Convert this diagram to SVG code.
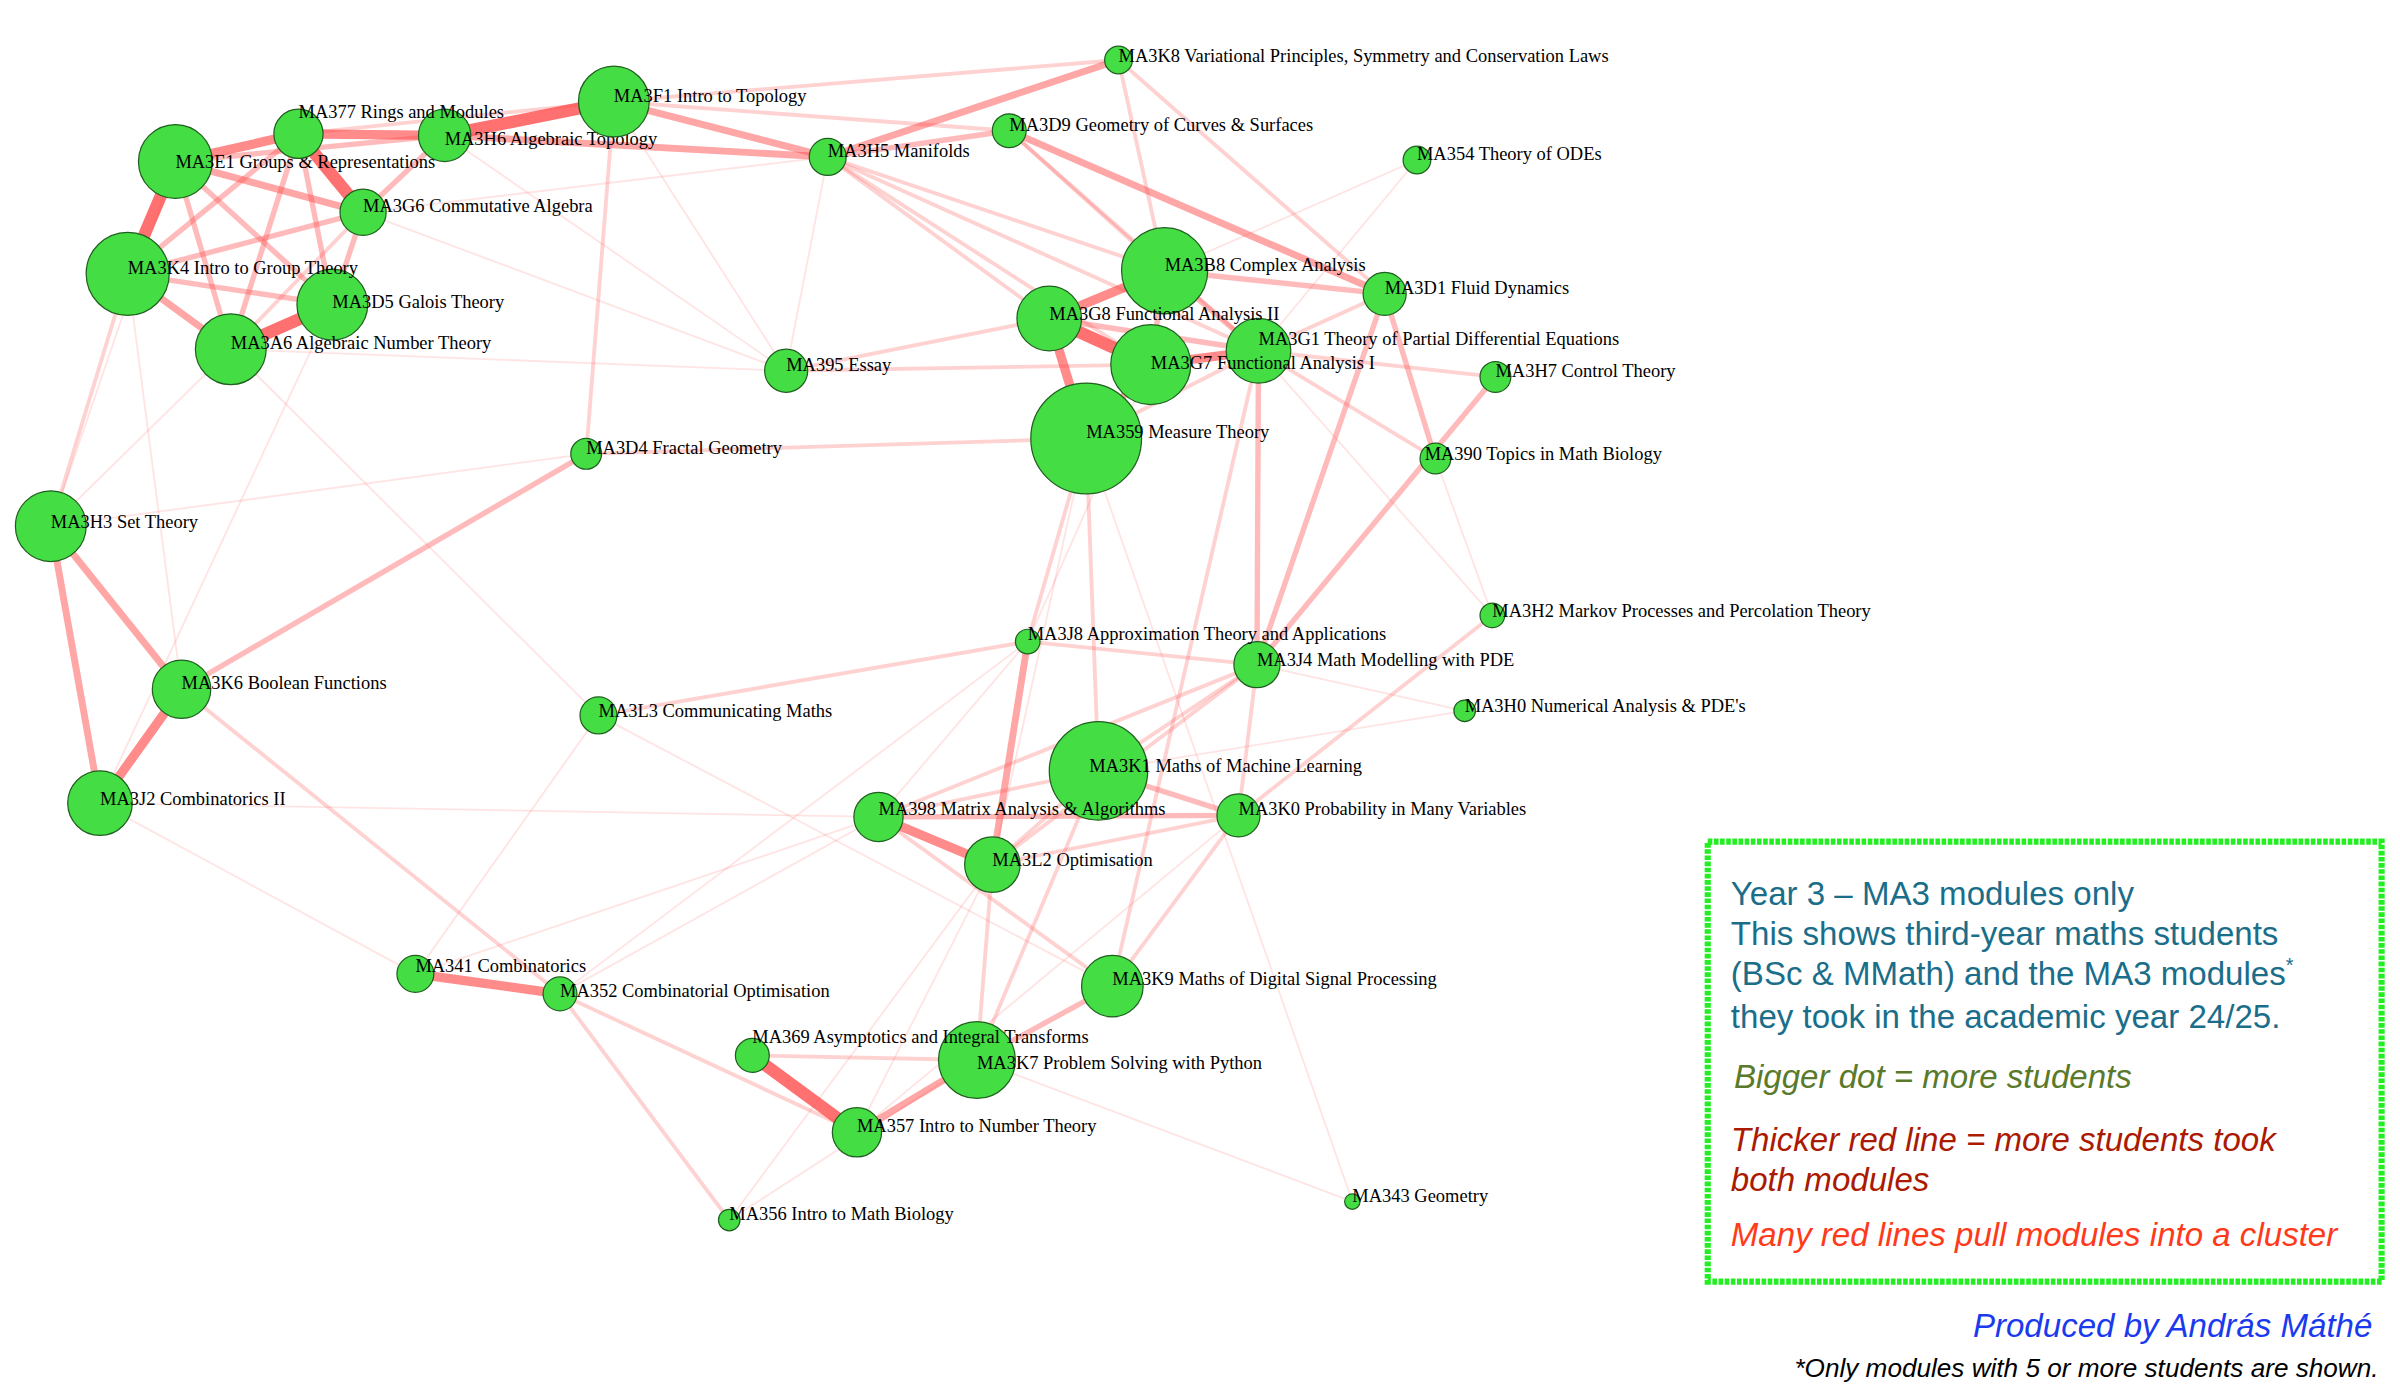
<svg xmlns="http://www.w3.org/2000/svg" width="2400" height="1400" viewBox="0 0 2400 1400">
<style>
.e{stroke:#ff4d4d;fill:none;stroke-linecap:round}
.w1{stroke-width:1.2;stroke-opacity:.15}
.w2{stroke-width:2.5;stroke-opacity:.25}
.w3{stroke-width:3.5;stroke-opacity:.38}
.w4{stroke-width:4.5;stroke-opacity:.5}
.w5{stroke-width:6;stroke-opacity:.65}
.w6{stroke-width:8;stroke-opacity:.8}
circle{fill:#44dd44;stroke:#1f5f1f;stroke-width:.8}
.n text{font-family:"Liberation Serif",serif;font-size:12px;fill:#000}
.lg{font-family:"Liberation Sans",Arial,sans-serif;font-size:21.5px}
</style>
<rect width="2400" height="1400" fill="#fff"/>
<g transform="scale(1.5385)">
<g id="connectors">
<line class="e w6" x1="114" y1="105" x2="83" y2="178"/>
<line class="e w5" x1="114" y1="105" x2="194" y2="87"/>
<line class="e w5" x1="194" y1="87" x2="289" y2="88"/>
<line class="e w6" x1="289" y1="88" x2="399" y2="66"/>
<line class="e w6" x1="194" y1="87" x2="236" y2="138"/>
<line class="e w4" x1="114" y1="105" x2="236" y2="138"/>
<line class="e w3" x1="236" y1="138" x2="216" y2="198"/>
<line class="e w6" x1="216" y1="198" x2="150" y2="227"/>
<line class="e w4" x1="83" y1="178" x2="150" y2="227"/>
<line class="e w3" x1="83" y1="178" x2="216" y2="198"/>
<line class="e w3" x1="114" y1="105" x2="216" y2="198"/>
<line class="e w3" x1="114" y1="105" x2="150" y2="227"/>
<line class="e w3" x1="194" y1="87" x2="150" y2="227"/>
<line class="e w3" x1="194" y1="87" x2="216" y2="198"/>
<line class="e w3" x1="83" y1="178" x2="236" y2="138"/>
<line class="e w3" x1="83" y1="178" x2="194" y2="87"/>
<line class="e w3" x1="114" y1="105" x2="289" y2="88"/>
<line class="e w3" x1="236" y1="138" x2="289" y2="88"/>
<line class="e w2" x1="236" y1="138" x2="150" y2="227"/>
<line class="e w2" x1="194" y1="87" x2="399" y2="66"/>
<line class="e w4" x1="399" y1="66" x2="538" y2="102"/>
<line class="e w4" x1="289" y1="88" x2="538" y2="102"/>
<line class="e w4" x1="538" y1="102" x2="727" y2="39"/>
<line class="e w3" x1="538" y1="102" x2="656" y2="85"/>
<line class="e w2" x1="399" y1="66" x2="656" y2="85"/>
<line class="e w2" x1="399" y1="66" x2="727" y2="39"/>
<line class="e w4" x1="656" y1="85" x2="900" y2="191"/>
<line class="e w2" x1="656" y1="85" x2="757" y2="176"/>
<line class="e w2" x1="656" y1="85" x2="818" y2="228"/>
<line class="e w2" x1="727" y1="39" x2="757" y2="176"/>
<line class="e w2" x1="727" y1="39" x2="900" y2="191"/>
<line class="e w2" x1="538" y1="102" x2="748" y2="237"/>
<line class="e w2" x1="538" y1="102" x2="757" y2="176"/>
<line class="e w2" x1="538" y1="102" x2="818" y2="228"/>
<line class="e w2" x1="538" y1="102" x2="682" y2="207"/>
<line class="e w1" x1="538" y1="102" x2="511" y2="241"/>
<line class="e w2" x1="399" y1="66" x2="381" y2="295"/>
<line class="e w1" x1="399" y1="66" x2="511" y2="241"/>
<line class="e w1" x1="236" y1="138" x2="538" y2="102"/>
<line class="e w6" x1="682" y1="207" x2="748" y2="237"/>
<line class="e w5" x1="682" y1="207" x2="706" y2="285"/>
<line class="e w4" x1="748" y1="237" x2="706" y2="285"/>
<line class="e w5" x1="757" y1="176" x2="682" y2="207"/>
<line class="e w3" x1="757" y1="176" x2="748" y2="237"/>
<line class="e w5" x1="748" y1="237" x2="818" y2="228"/>
<line class="e w3" x1="682" y1="207" x2="818" y2="228"/>
<line class="e w3" x1="757" y1="176" x2="818" y2="228"/>
<line class="e w3" x1="757" y1="176" x2="900" y2="191"/>
<line class="e w2" x1="706" y1="285" x2="818" y2="228"/>
<line class="e w2" x1="818" y1="228" x2="900" y2="191"/>
<line class="e w3" x1="900" y1="191" x2="933" y2="298"/>
<line class="e w3" x1="900" y1="191" x2="817" y2="432"/>
<line class="e w3" x1="818" y1="228" x2="817" y2="432"/>
<line class="e w3" x1="972" y1="245" x2="817" y2="432"/>
<line class="e w2" x1="818" y1="228" x2="933" y2="298"/>
<line class="e w2" x1="818" y1="228" x2="972" y2="245"/>
<line class="e w1" x1="818" y1="228" x2="921" y2="104"/>
<line class="e w1" x1="757" y1="176" x2="921" y2="104"/>
<line class="e w2" x1="682" y1="207" x2="511" y2="241"/>
<line class="e w2" x1="748" y1="237" x2="511" y2="241"/>
<line class="e w2" x1="706" y1="285" x2="381" y2="295"/>
<line class="e w2" x1="706" y1="285" x2="668" y2="417"/>
<line class="e w2" x1="706" y1="285" x2="714" y2="501"/>
<line class="e w2" x1="818" y1="228" x2="723" y2="641"/>
<line class="e w1" x1="748" y1="237" x2="668" y2="417"/>
<line class="e w1" x1="706" y1="285" x2="645" y2="562"/>
<line class="e w1" x1="818" y1="228" x2="970" y2="400"/>
<line class="e w1" x1="933" y1="298" x2="970" y2="400"/>
<line class="e w2" x1="970" y1="400" x2="805" y2="530"/>
<line class="e w1" x1="952" y1="462" x2="817" y2="432"/>
<line class="e w2" x1="668" y1="417" x2="817" y2="432"/>
<line class="e w4" x1="668" y1="417" x2="645" y2="562"/>
<line class="e w2" x1="668" y1="417" x2="389" y2="465"/>
<line class="e w1" x1="668" y1="417" x2="571" y2="531"/>
<line class="e w2" x1="817" y1="432" x2="714" y2="501"/>
<line class="e w2" x1="817" y1="432" x2="571" y2="531"/>
<line class="e w2" x1="817" y1="432" x2="645" y2="562"/>
<line class="e w2" x1="817" y1="432" x2="805" y2="530"/>
<line class="e w1" x1="952" y1="462" x2="714" y2="501"/>
<line class="e w3" x1="714" y1="501" x2="805" y2="530"/>
<line class="e w2" x1="714" y1="501" x2="571" y2="531"/>
<line class="e w2" x1="714" y1="501" x2="645" y2="562"/>
<line class="e w3" x1="571" y1="531" x2="805" y2="530"/>
<line class="e w5" x1="571" y1="531" x2="645" y2="562"/>
<line class="e w2" x1="645" y1="562" x2="805" y2="530"/>
<line class="e w2" x1="571" y1="531" x2="723" y2="641"/>
<line class="e w2" x1="645" y1="562" x2="635" y2="689"/>
<line class="e w1" x1="645" y1="562" x2="557" y2="736"/>
<line class="e w1" x1="571" y1="531" x2="364" y2="646"/>
<line class="e w1" x1="571" y1="531" x2="270" y2="633"/>
<line class="e w2" x1="714" y1="501" x2="635" y2="689"/>
<line class="e w3" x1="723" y1="641" x2="635" y2="689"/>
<line class="e w2" x1="805" y1="530" x2="723" y2="641"/>
<line class="e w1" x1="635" y1="689" x2="879" y2="781"/>
<line class="e w1" x1="706" y1="285" x2="879" y2="781"/>
<line class="e w4" x1="635" y1="689" x2="557" y2="736"/>
<line class="e w6" x1="489" y1="686" x2="557" y2="736"/>
<line class="e w2" x1="489" y1="686" x2="635" y2="689"/>
<line class="e w5" x1="270" y1="633" x2="364" y2="646"/>
<line class="e w2" x1="364" y1="646" x2="557" y2="736"/>
<line class="e w2" x1="364" y1="646" x2="474" y2="793"/>
<line class="e w1" x1="474" y1="793" x2="635" y2="689"/>
<line class="e w1" x1="474" y1="793" x2="645" y2="562"/>
<line class="e w1" x1="557" y1="736" x2="805" y2="530"/>
<line class="e w2" x1="118" y1="448" x2="364" y2="646"/>
<line class="e w1" x1="65" y1="522" x2="270" y2="633"/>
<line class="e w1" x1="389" y1="465" x2="723" y2="641"/>
<line class="e w4" x1="33" y1="342" x2="65" y2="522"/>
<line class="e w4" x1="33" y1="342" x2="118" y2="448"/>
<line class="e w5" x1="118" y1="448" x2="65" y2="522"/>
<line class="e w2" x1="83" y1="178" x2="33" y2="342"/>
<line class="e w1" x1="114" y1="105" x2="33" y2="342"/>
<line class="e w1" x1="150" y1="227" x2="33" y2="342"/>
<line class="e w1" x1="83" y1="178" x2="118" y2="448"/>
<line class="e w1" x1="216" y1="198" x2="65" y2="522"/>
<line class="e w3" x1="118" y1="448" x2="381" y2="295"/>
<line class="e w1" x1="150" y1="227" x2="389" y2="465"/>
<line class="e w1" x1="150" y1="227" x2="511" y2="241"/>
<line class="e w1" x1="236" y1="138" x2="511" y2="241"/>
<line class="e w1" x1="289" y1="88" x2="511" y2="241"/>
<line class="e w1" x1="33" y1="342" x2="381" y2="295"/>
<line class="e w1" x1="65" y1="522" x2="571" y2="531"/>
<line class="e w1" x1="270" y1="633" x2="389" y2="465"/>
<line class="e w1" x1="364" y1="646" x2="668" y2="417"/>
</g>
<g class="n" id="n-MA3H6"><circle cx="289" cy="88" r="17"/><text x="289" y="94">MA3H6 Algebraic Topology</text></g>
<g class="n" id="n-MA3G6"><circle cx="236" cy="138" r="15"/><text x="236" y="138">MA3G6 Commutative Algebra</text></g>
<g class="n" id="n-MA3E1"><circle cx="114" cy="105" r="24"/><text x="114" y="109">MA3E1 Groups &amp; Representations</text></g>
<g class="n" id="n-MA377"><circle cx="194" cy="87" r="16"/><text x="194" y="77">MA377 Rings and Modules</text></g>
<g class="n" id="n-MA3F1"><circle cx="399" cy="66" r="23"/><text x="399" y="66">MA3F1 Intro to Topology</text></g>
<g class="n" id="n-MA3D5"><circle cx="216" cy="198" r="23"/><text x="216" y="200">MA3D5 Galois Theory</text></g>
<g class="n" id="n-MA3K4"><circle cx="83" cy="178" r="27"/><text x="83" y="178">MA3K4 Intro to Group Theory</text></g>
<g class="n" id="n-MA3A6"><circle cx="150" cy="227" r="23"/><text x="150" y="227">MA3A6 Algebraic Number Theory</text></g>
<g class="n" id="n-MA3H5"><circle cx="538" cy="102" r="12"/><text x="538" y="102">MA3H5 Manifolds</text></g>
<g class="n" id="n-MA3K8"><circle cx="727" cy="39" r="9"/><text x="727" y="40">MA3K8 Variational Principles, Symmetry and Conservation Laws</text></g>
<g class="n" id="n-MA3D9"><circle cx="656" cy="85" r="11"/><text x="656" y="85">MA3D9 Geometry of Curves &amp; Surfaces</text></g>
<g class="n" id="n-MA354"><circle cx="921" cy="104" r="9"/><text x="921" y="104">MA354 Theory of ODEs</text></g>
<g class="n" id="n-MA3D1"><circle cx="900" cy="191" r="14"/><text x="900" y="191">MA3D1 Fluid Dynamics</text></g>
<g class="n" id="n-MA3B8"><circle cx="757" cy="176" r="28"/><text x="757" y="176">MA3B8 Complex Analysis</text></g>
<g class="n" id="n-MA3G1"><circle cx="818" cy="228" r="21"/><text x="818" y="224">MA3G1 Theory of Partial Differential Equations</text></g>
<g class="n" id="n-MA3G7"><circle cx="748" cy="237" r="26"/><text x="748" y="240">MA3G7 Functional Analysis I</text></g>
<g class="n" id="n-MA3G8"><circle cx="682" cy="207" r="21"/><text x="682" y="208">MA3G8 Functional Analysis II</text></g>
<g class="n" id="n-MA395"><circle cx="511" cy="241" r="14"/><text x="511" y="241">MA395 Essay</text></g>
<g class="n" id="n-MA3H7"><circle cx="972" cy="245" r="10"/><text x="972" y="245">MA3H7 Control Theory</text></g>
<g class="n" id="n-MA359"><circle cx="706" cy="285" r="36"/><text x="706" y="285">MA359 Measure Theory</text></g>
<g class="n" id="n-MA390"><circle cx="933" cy="298" r="10"/><text x="926" y="299">MA390 Topics in Math Biology</text></g>
<g class="n" id="n-MA3D4"><circle cx="381" cy="295" r="10"/><text x="381" y="295">MA3D4 Fractal Geometry</text></g>
<g class="n" id="n-MA3H3"><circle cx="33" cy="342" r="23"/><text x="33" y="343">MA3H3 Set Theory</text></g>
<g class="n" id="n-MA3H2"><circle cx="970" cy="400" r="8"/><text x="970" y="401">MA3H2 Markov Processes and Percolation Theory</text></g>
<g class="n" id="n-MA3J4"><circle cx="817" cy="432" r="15"/><text x="817" y="433">MA3J4 Math Modelling with PDE</text></g>
<g class="n" id="n-MA3J8"><circle cx="668" cy="417" r="8"/><text x="668" y="416">MA3J8 Approximation Theory and Applications</text></g>
<g class="n" id="n-MA3K6"><circle cx="118" cy="448" r="19"/><text x="118" y="448">MA3K6 Boolean Functions</text></g>
<g class="n" id="n-MA3L3"><circle cx="389" cy="465" r="12"/><text x="389" y="466">MA3L3 Communicating Maths</text></g>
<g class="n" id="n-MA3H0"><circle cx="952" cy="462" r="7"/><text x="952" y="463">MA3H0 Numerical Analysis &amp; PDE's</text></g>
<g class="n" id="n-MA3K1"><circle cx="714" cy="501" r="32"/><text x="708" y="502">MA3K1 Maths of Machine Learning</text></g>
<g class="n" id="n-MA3J2"><circle cx="65" cy="522" r="21"/><text x="65" y="523">MA3J2 Combinatorics II</text></g>
<g class="n" id="n-MA3K0"><circle cx="805" cy="530" r="14"/><text x="805" y="530">MA3K0 Probability in Many Variables</text></g>
<g class="n" id="n-MA398"><circle cx="571" cy="531" r="16"/><text x="571" y="530">MA398 Matrix Analysis &amp; Algorithms</text></g>
<g class="n" id="n-MA3L2"><circle cx="645" cy="562" r="18"/><text x="645" y="563">MA3L2 Optimisation</text></g>
<g class="n" id="n-MA341"><circle cx="270" cy="633" r="12"/><text x="270" y="632">MA341 Combinatorics</text></g>
<g class="n" id="n-MA352"><circle cx="364" cy="646" r="11"/><text x="364" y="648">MA352 Combinatorial Optimisation</text></g>
<g class="n" id="n-MA3K9"><circle cx="723" cy="641" r="20"/><text x="723" y="640">MA3K9 Maths of Digital Signal Processing</text></g>
<g class="n" id="n-MA3K7"><circle cx="635" cy="689" r="25"/><text x="635" y="695">MA3K7 Problem Solving with Python</text></g>
<g class="n" id="n-MA369"><circle cx="489" cy="686" r="11"/><text x="489" y="678">MA369 Asymptotics and Integral Transforms</text></g>
<g class="n" id="n-MA357"><circle cx="557" cy="736" r="16"/><text x="557" y="736">MA357 Intro to Number Theory</text></g>
<g class="n" id="n-MA356"><circle cx="474" cy="793" r="7"/><text x="474" y="793">MA356 Intro to Math Biology</text></g>
<g class="n" id="n-MA343"><circle cx="879" cy="781" r="5"/><text x="879" y="781">MA343 Geometry</text></g>
<g id="legend">
<rect x="1110" y="547" width="438" height="286" fill="none" stroke="#22ee22" stroke-width="4" stroke-dasharray="3 1"/>
<text class="lg" fill="#1a6e8a" x="1125" y="588">Year 3 – MA3 modules only</text>
<text class="lg" fill="#1a6e8a" x="1125" y="614">This shows third-year maths students</text>
<text class="lg" fill="#1a6e8a" x="1125" y="640">(BSc &amp; MMath) and the MA3 modules<tspan font-size="13" dy="-8">*</tspan></text>
<text class="lg" fill="#1a6e8a" x="1125" y="668">they took in the academic year 24/25.</text>
<text class="lg" fill="#5a7a2a" font-style="italic" x="1127" y="707">Bigger dot = more students</text>
<text class="lg" fill="#aa1a00" font-style="italic" x="1125" y="748">Thicker red line = more students took</text>
<text class="lg" fill="#aa1a00" font-style="italic" x="1125" y="774">both modules</text>
<text class="lg" fill="#ff3a1a" font-style="italic" x="1125" y="810">Many red lines pull modules into a cluster</text>
</g>
<text class="lg" fill="#1a3aee" font-style="italic" text-anchor="end" x="1542" y="869">Produced by András Máthé</text>
<text class="lg" fill="#000" font-style="italic" text-anchor="end" x="1546" y="895" style="font-size:17px">*Only modules with 5 or more students are shown.</text>
</g>
</svg>
